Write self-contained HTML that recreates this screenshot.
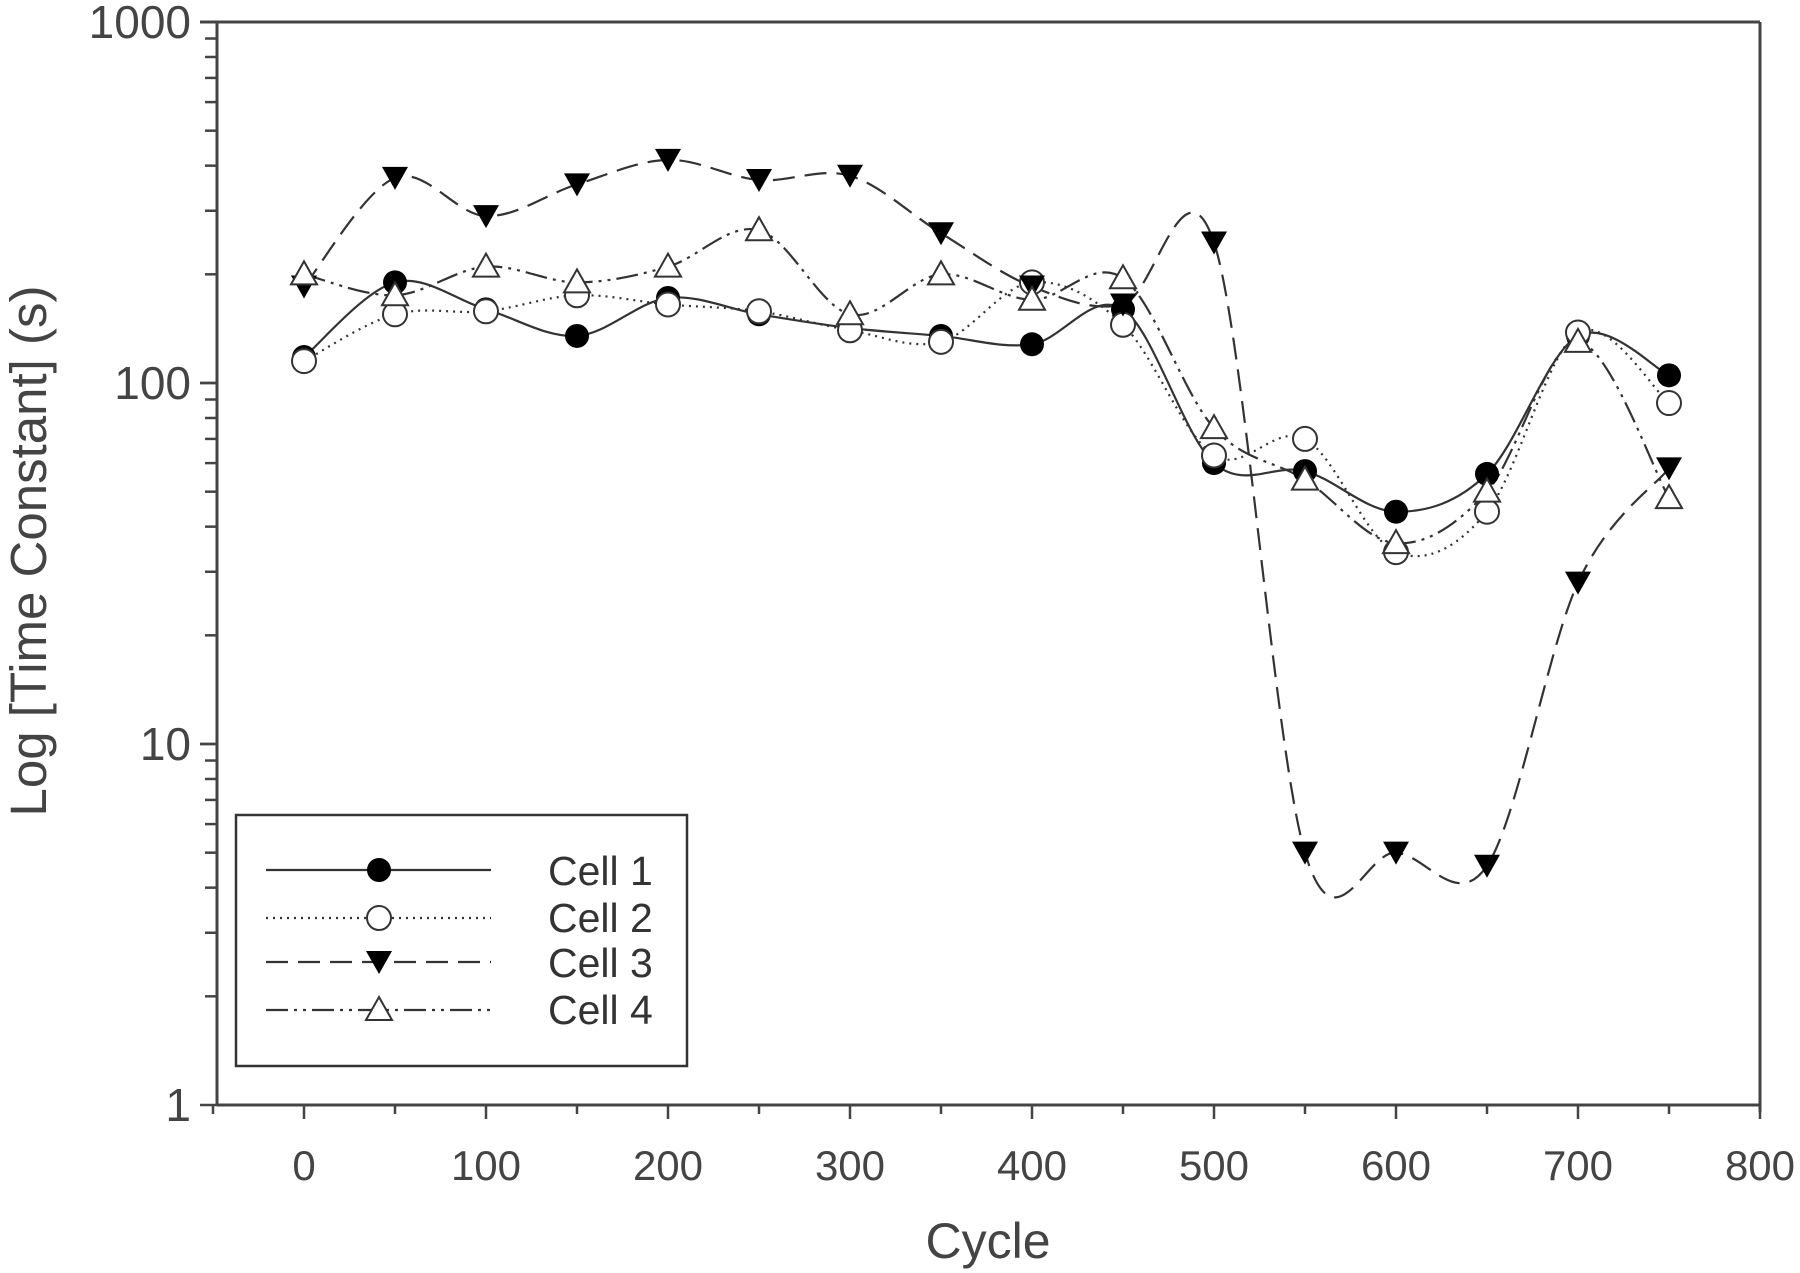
<!DOCTYPE html>
<html><head><meta charset="utf-8"><style>
html,body{margin:0;padding:0;background:#fff;}
svg{display:block;font-family:"Liberation Sans",Arial,sans-serif;}
</style></head><body>
<svg id="s" width="1800" height="1273" viewBox="0 0 1800 1273">
<g fill="#444" font-size="46" text-anchor="end">
<text x="191" y="38">1000</text>
<text x="191" y="399">100</text>
<text x="191" y="760">10</text>
<text x="191" y="1121">1</text>
</g>
<g fill="#444" font-size="42" text-anchor="middle">
<text x="304" y="1180">0</text><text x="486" y="1180">100</text><text x="668" y="1180">200</text>
<text x="850" y="1180">300</text><text x="1032" y="1180">400</text><text x="1214" y="1180">500</text>
<text x="1396" y="1180">600</text><text x="1578" y="1180">700</text><text x="1760" y="1180">800</text>
</g>
<text x="988" y="1258" font-size="50" fill="#444" text-anchor="middle">Cycle</text>
<text transform="translate(46,551) rotate(-90)" font-size="51" fill="#444" text-anchor="middle">Log [Time Constant] (s)</text>
<g id="plot"></g>
<rect x="236" y="815" width="451" height="251" fill="#fff" stroke="#333" stroke-width="2.5"/>
<g font-size="41" fill="#333">
<text x="548" y="885">Cell 1</text><text x="548" y="932">Cell 2</text>
<text x="548" y="977">Cell 3</text><text x="548" y="1024">Cell 4</text>
</g>
<g id="leg"></g>
</svg>
<script>
const NS="http://www.w3.org/2000/svg";
const X=v=>304+v*1.82, Y=v=>1105-Math.log10(v)*361;
function el(p,t,a){const e=document.createElementNS(NS,t);for(const k in a)e.setAttribute(k,a[k]);p.appendChild(e);return e;}
const plot=document.getElementById('plot'), leg=document.getElementById('leg');
el(plot,'line',{x1:217,y1:22,x2:217,y2:1105,stroke:'#444','stroke-width':3});
el(plot,'line',{x1:217,y1:1105,x2:1760,y2:1105,stroke:'#444','stroke-width':3});
el(plot,'line',{x1:1760,y1:22,x2:1760,y2:1112,stroke:'#444','stroke-width':3});
el(plot,'line',{x1:200,y1:22,x2:1760,y2:22,stroke:'#444','stroke-width':3});
for(let d=0;d<3;d++)for(let m=1;m<=10;m++){const y=Y(Math.pow(10,d)*m);el(plot,'line',{x1:m==10||m==1?200:205,y1:y,x2:217,y2:y,stroke:'#444','stroke-width':2.5});}
for(let v=-50;v<=800;v+=50){const x=X(v);el(plot,'line',{x1:x,y1:1105,x2:x,y2:v%100==0?1119:1114,stroke:'#444','stroke-width':2.5});}
const xs=[0,50,100,150,200,250,300,350,400,450,500,550,600,650,700,750];
const S=[
{d:[118,190,160,135,172,155,142,135,128,160,60,57,44,56,135,105],dash:'',m:'fc'},
{d:[115,155,158,175,165,158,140,130,190,145,63,70,34,44,138,88],dash:'2,5',m:'oc'},
{d:[185,370,290,355,415,365,375,260,185,165,245,5,5,4.6,28,58],dash:'22,10',m:'tri'},
{d:[200,175,210,190,210,265,155,200,170,195,75,54,36,50,130,48],dash:'22,6,3,6,3,6',m:'ut'}];
function path(p){let s=`M${p[0][0]},${p[0][1]}`;for(let i=0;i<p.length-1;i++){const p0=p[i-1]||p[i],p1=p[i],p2=p[i+1],p3=p[i+2]||p2;
s+=` C${p1[0]+(p2[0]-p0[0])/6},${p1[1]+(p2[1]-p0[1])/6} ${p2[0]-(p3[0]-p1[0])/6},${p2[1]-(p3[1]-p1[1])/6} ${p2[0]},${p2[1]}`;}return s;}
function marker(g,t,x,y){const r=12;
if(t=='fc')el(g,'circle',{cx:x,cy:y,r:r,fill:'#000'});
if(t=='oc')el(g,'circle',{cx:x,cy:y,r:r,fill:'#fff',stroke:'#333','stroke-width':2});
if(t=='tri')el(g,'polygon',{points:`${x-13},${y-11} ${x+13},${y-11} ${x},${y+12}`,fill:'#000'});
if(t=='ut')el(g,'polygon',{points:`${x-13},${y+10} ${x+13},${y+10} ${x},${y-13}`,fill:'#fff',stroke:'#333','stroke-width':2});}
S.forEach(s=>{const p=xs.map((x,i)=>[X(x),Y(s.d[i])]);
el(plot,'path',{d:path(p),fill:'none',stroke:'#333','stroke-width':2.2,'stroke-dasharray':s.dash});});
S.forEach(s=>{xs.forEach((x,i)=>marker(plot,s.m,X(x),Y(s.d[i])));});
[870,918,962,1010].forEach((y,i)=>{el(leg,'line',{x1:266,y1:y,x2:491,y2:y,stroke:'#333','stroke-width':2.2,'stroke-dasharray':S[i].dash});marker(leg,S[i].m,379,y);});
</script>
</body></html>
